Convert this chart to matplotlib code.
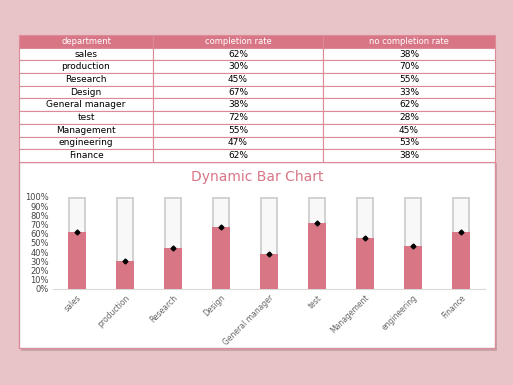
import matplotlib.pyplot as plt
import numpy as np
from matplotlib.patches import Rectangle

departments = ['sales', 'production', 'Research', 'Design', 'General manager',
               'test', 'Management', 'engineering', 'Finance']
completion = [62, 30, 45, 67, 38, 72, 55, 47, 62]
no_completion = [38, 70, 55, 33, 62, 28, 45, 53, 38]
header = ['department', 'completion rate', 'no completion rate']

pink = '#d97686'
bg = '#e8c3c7'
W, H = 513, 385

fig = plt.figure(figsize=(W / 100, H / 100), dpi=100)
fig.patch.set_facecolor(bg)

def box(x0, y0, x1, y1):
    # pixel coords (top-left origin) -> figure fraction
    return [x0 / W, 1 - y1 / H, (x1 - x0) / W, (y1 - y0) / H]

# panel del grafico (detras de todo)
fig.patches.append(Rectangle((21 / W, 1 - 351 / H), 476 / W, 188 / H, transform=fig.transFigure,
                             facecolor='#c8a2a7', edgecolor='none', zorder=-2))
fig.patches.append(Rectangle((19 / W, 1 - 348 / H), 476 / W, 186 / H, transform=fig.transFigure,
                             facecolor='white', edgecolor='#d98d99', linewidth=1, zorder=-1))

# tabla
axt = fig.add_axes(box(19, 35, 495, 162))
axt.axis('off')
filas = [[d, f'{c}%', f'{n}%'] for d, c, n in zip(departments, completion, no_completion)]
tabla = axt.table(cellText=filas, colLabels=header, bbox=[0, 0, 1, 1],
                  colWidths=[134, 170, 172], cellLoc='center')
tabla.auto_set_font_size(False)
for (r, c), celda in tabla.get_celld().items():
    celda.set_edgecolor('#dc8a97')
    celda.set_linewidth(0.8)
    if r == 0:
        celda.set_facecolor(pink)
        celda.get_text().set_color('white')
        celda.get_text().set_fontsize(6)
    else:
        celda.set_facecolor('white')
        celda.get_text().set_fontsize(6.5)

fig.text(257 / W, 1 - 177 / H, 'Dynamic Bar Chart', color=pink, fontsize=10,
         ha='center', va='center')

ax = fig.add_axes(box(53, 197, 485, 289))
x = np.arange(len(departments))
ax.bar(x, [100] * len(x), width=0.375, color='#d2d2d2', zorder=1)
ax.bar(x, [98] * len(x), width=0.29, color='#f8f8f8', zorder=2)
ax.bar(x, completion, width=0.375, color=pink, zorder=3)
ax.plot(x, completion, 'D', color='black', markersize=2.5, zorder=4)

ax.set_xlim(-0.5, len(x) - 0.5)
ax.set_ylim(0, 100)
ax.set_yticks(np.arange(0, 101, 10))
ax.set_yticklabels([f'{v}%' for v in range(0, 101, 10)], fontsize=6, color='#444444')
ax.set_xticks(x)
ax.set_xticklabels(departments, rotation=45, ha='right', rotation_mode='anchor',
                   fontsize=5.5, color='#666666')
ax.tick_params(length=0, pad=3)
for s in ['top', 'right', 'left']:
    ax.spines[s].set_visible(False)
ax.spines['bottom'].set_color('#d9d9d9')
ax.set_facecolor('none')

plt.savefig('out.png', dpi=100, facecolor=bg)
